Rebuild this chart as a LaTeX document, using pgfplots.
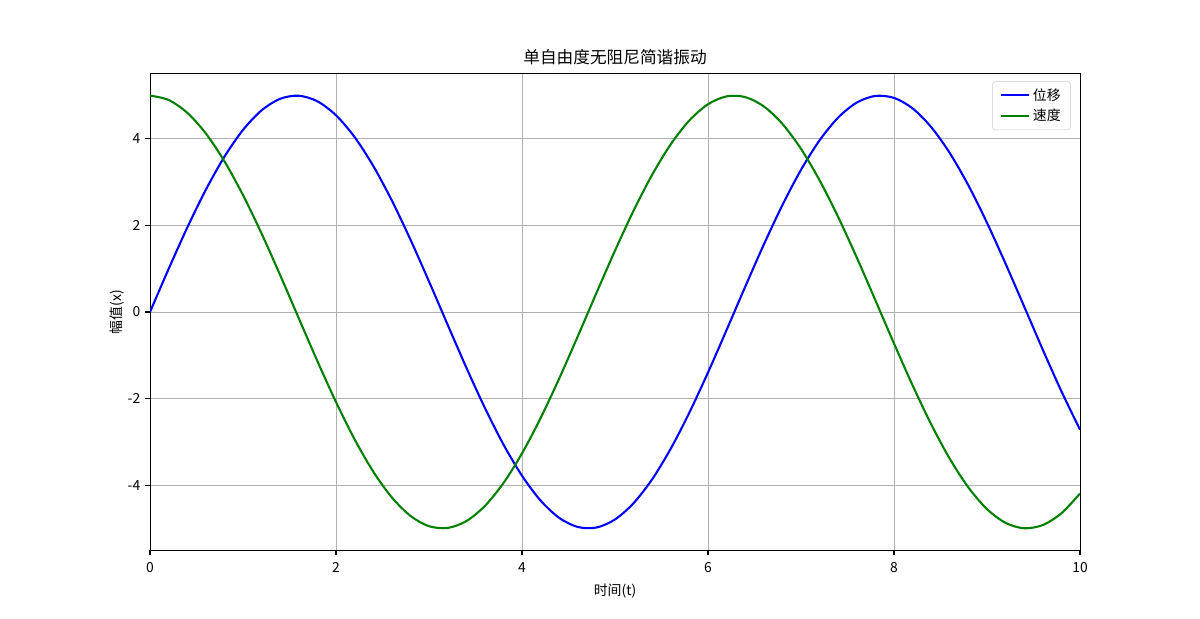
\documentclass[border=0pt]{standalone}
\usepackage{pgfplots}
\pgfplotsset{compat=1.18}
\usepackage{fontspec}
\setmainfont{Noto Sans CJK SC}
\begin{document}
\begin{tikzpicture}
\path (-108pt,-49.68pt) rectangle (756pt,396pt);
\begin{axis}[
  at={(0,0)}, anchor=south west, scale only axis,
  width=669.6pt, height=342.72pt,
  xmin=0, xmax=10, ymin=-5.5, ymax=5.5,
  xtick={0,2,4,6,8,10}, ytick={-4,-2,0,2,4},
  yticklabels={-4,-2,0,2,4},
  grid=major, grid style={color=black!31, line width=0.7pt},
  axis line style={line width=0.7pt},
  tick style={black, line width=0.8pt},
  tick align=outside, tickpos=left, major tick length=3.5pt,
  /pgf/number format/assume math mode=true,
  tick label style={font=\fontsize{10}{12}\selectfont},
  xticklabel style={yshift=-2pt},
  title={单自由度无阻尼简谐振动},
  title style={font=\fontsize{12}{14}\selectfont, yshift=-3pt},
  xlabel={时间(t)}, ylabel={幅值(x)},
  label style={font=\fontsize{10}{12}\selectfont},
  xlabel style={yshift=-1pt}, ylabel style={yshift=-4pt},
  legend style={at={(0.99,0.985)}, anchor=north east, draw=black!20, rounded corners=2pt,
    font=\fontsize{10}{13}\selectfont, row sep=1pt, inner xsep=5pt, inner ysep=3pt},
  legend cell align=left,
  legend image code/.code={\draw[#1, line width=1.5pt] (0cm,0cm) -- (0.72cm,0cm);},
]
\addplot[blue, line width=1.5pt, smooth] coordinates {
(0,0) (0.2,0.993) (0.4,1.947) (0.6,2.823) (0.8,3.587) (1.0,4.207) (1.2,4.660) (1.4,4.927)
(1.6,4.998) (1.8,4.869) (2.0,4.546) (2.2,4.042) (2.4,3.377) (2.6,2.578) (2.8,1.675) (3.0,0.706)
(3.2,-0.292) (3.4,-1.278) (3.6,-2.213) (3.8,-3.059) (4.0,-3.784) (4.2,-4.358) (4.4,-4.758)
(4.6,-4.968) (4.8,-4.981) (5.0,-4.795) (5.2,-4.417) (5.4,-3.864) (5.6,-3.156) (5.8,-2.323)
(6.0,-1.397) (6.2,-0.415) (6.4,0.583) (6.6,1.558) (6.8,2.471) (7.0,3.285) (7.2,3.968)
(7.4,4.494) (7.6,4.840) (7.8,4.993) (8.0,4.947) (8.2,4.704) (8.4,4.273) (8.6,3.672)
(8.8,2.925) (9.0,2.061) (9.2,1.114) (9.4,0.124) (9.6,-0.872) (9.8,-1.832) (10.0,-2.720)
};
\addlegendentry{位移}
\addplot[color={rgb,255:red,0;green,128;blue,0}, line width=1.5pt, smooth] coordinates {
(0,5) (0.2,4.900) (0.4,4.605) (0.6,4.127) (0.8,3.484) (1.0,2.702) (1.2,1.812) (1.4,0.850)
(1.6,-0.146) (1.8,-1.136) (2.0,-2.081) (2.2,-2.943) (2.4,-3.687) (2.6,-4.284) (2.8,-4.711)
(3.0,-4.950) (3.2,-4.991) (3.4,-4.834) (3.6,-4.484) (3.8,-3.955) (4.0,-3.268) (4.2,-2.451)
(4.4,-1.537) (4.6,-0.561) (4.8,0.437) (5.0,1.418) (5.2,2.343) (5.4,3.173) (5.6,3.878)
(5.8,4.428) (6.0,4.801) (6.2,4.983) (6.4,4.966) (6.6,4.751) (6.8,4.347) (7.0,3.770)
(7.2,3.042) (7.4,2.193) (7.6,1.256) (7.8,0.270) (8.0,-0.728) (8.2,-1.696) (8.4,-2.596)
(8.6,-3.394) (8.8,-4.055) (9.0,-4.556) (9.2,-4.874) (9.4,-4.998) (9.6,-4.923) (9.8,-4.652)
(10.0,-4.195)
};
\addlegendentry{速度}
\end{axis}
\end{tikzpicture}
\end{document}
